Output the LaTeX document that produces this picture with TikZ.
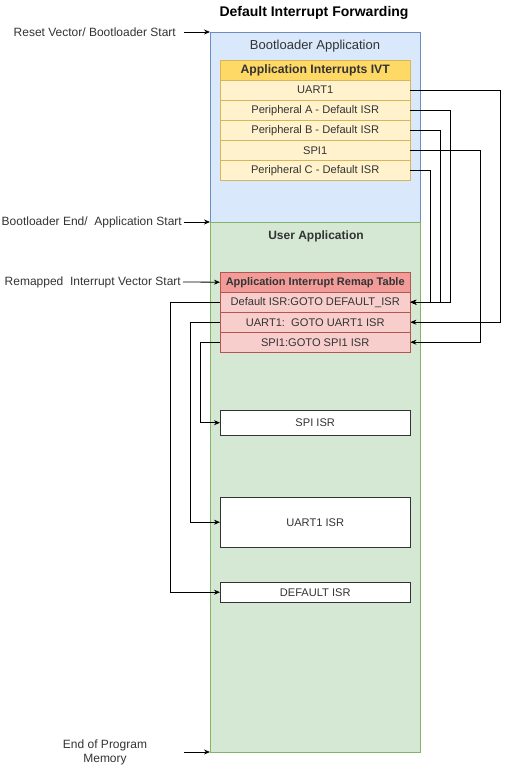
\documentclass[tikz,border=0pt]{standalone}
\usepackage{fontspec}
\setmainfont{Liberation Sans}
\usetikzlibrary{arrows.meta}
\definecolor{bootFill}{HTML}{DAE8FC}
\definecolor{bootLine}{HTML}{6C8EBF}
\definecolor{appFill}{HTML}{D5E8D4}
\definecolor{appLine}{HTML}{82B366}
\definecolor{ivtHead}{HTML}{FFD966}
\definecolor{ivtFill}{HTML}{FFF2CC}
\definecolor{ivtLine}{HTML}{D6B656}
\definecolor{remHead}{HTML}{F19C99}
\definecolor{remFill}{HTML}{F8CECC}
\definecolor{remLine}{HTML}{B85450}
\definecolor{txt}{HTML}{333333}

\begin{document}
\begin{tikzpicture}[x=1pt, y=-1pt,
    region/.style={rectangle, draw, minimum width=210pt, anchor=north west, inner sep=0pt},
    row/.style={rectangle, draw, minimum width=190pt, minimum height=20pt, anchor=north west, inner sep=0pt, text=txt, font=\fontsize{11.1}{13}\selectfont},
    ivtrow/.style={row, draw=ivtLine, fill=ivtFill},
    remrow/.style={row, draw=remLine, fill=remFill},
    isr/.style={row, draw=black!80, fill=white},
    side/.style={text=txt, font=\fontsize{12}{14}\selectfont, inner sep=0pt},
    arr/.style={-{Stealth[length=6pt, width=5pt]}, thick, black}
]
\useasboundingbox (0,0) rectangle (509,774);
\node[font=\bfseries\fontsize{14}{16}\selectfont] (title) at (314,13) {Default Interrupt Forwarding};
% memory regions
\node[region, draw=bootLine, fill=bootFill, minimum height=190pt] (boot) at (210,32) {};
\node[region, draw=appLine, fill=appFill, minimum height=530pt] (app) at (210,222) {};
\node[text=txt, font=\fontsize{13}{15}\selectfont] (bootLbl) at (315,46) {Bootloader Application};
\node[text=txt, font=\bfseries\fontsize{12}{14}\selectfont] (appLbl) at (316,236) {User Application};
% vector table
\node[ivtrow, fill=ivtHead, font=\bfseries\fontsize{12.2}{14}\selectfont] (ivt) at (220,60) {Application Interrupts IVT};
\node[ivtrow] (ivtUart) at (220,80) {UART1};
\node[ivtrow] (ivtA) at (220,100) {Peripheral A - Default ISR};
\node[ivtrow] (ivtB) at (220,120) {Peripheral B - Default ISR};
\node[ivtrow] (ivtSpi) at (220,140) {SPI1};
\node[ivtrow] (ivtC) at (220,160) {Peripheral C - Default ISR};
% remap table
\node[remrow, fill=remHead, font=\bfseries\fontsize{11}{13}\selectfont] (rem) at (220,272) {Application Interrupt Remap Table};
\node[remrow] (remDef) at (220,292) {Default ISR:GOTO DEFAULT\_ISR};
\node[remrow] (remUart) at (220,312) {UART1:\ \ GOTO UART1 ISR};
\node[remrow] (remSpi) at (220,332) {SPI1:GOTO SPI1 ISR};
% handlers
\node[isr, minimum height=25pt] (spiIsr) at (220,410) {SPI ISR};
\node[isr, minimum height=50pt] (uartIsr) at (220,497) {UART1 ISR};
\node[isr] (defIsr) at (220,582) {DEFAULT ISR};
% address labels
\node[side, anchor=east] (lReset) at (176,32) {Reset Vector/ Bootloader Start};
\node[side, anchor=east] (lBootEnd) at (182,222) {Bootloader End/\ \ Application Start};
\node[side, anchor=east] (lRemap) at (181,282) {Remapped\ \ Interrupt Vector Start};
\node[side, align=center] (lEnd) at (105,752) {End of Program\\Memory};
\coordinate (bootTop) at (210,32);
\coordinate (appTop) at (210,222);
\coordinate (appEnd) at (210,752);
\draw[arr] ([xshift=8pt]lReset.east) -- (bootTop);
\draw[arr] ([xshift=2pt]lBootEnd.east) -- (appTop);
\draw[arr] ([xshift=2pt]lRemap.east) -- (rem.west);
\draw[arr] ([xshift=79pt]lEnd.center) -- (appEnd);
% vectors into remap table
\draw[arr] (ivtUart.east) -- ++(90,0) |- (remUart.east);
\draw[arr] (ivtA.east) -- ++(40,0) |- (remDef.east);
\draw[arr] (ivtB.east) -- ++(30,0) |- (remDef.east);
\draw[arr] (ivtSpi.east) -- ++(70,0) |- (remSpi.east);
\draw[arr] (ivtC.east) -- ++(20,0) |- (remDef.east);
% remap jumps
\draw[arr] (remDef.west) -- ++(-50,0) |- (defIsr.west);
\draw[arr] (remUart.west) -- ++(-30,0) |- (uartIsr.west);
\draw[arr] (remSpi.west) -- ++(-20,0) |- (spiIsr.west);
\end{tikzpicture}
\end{document}
